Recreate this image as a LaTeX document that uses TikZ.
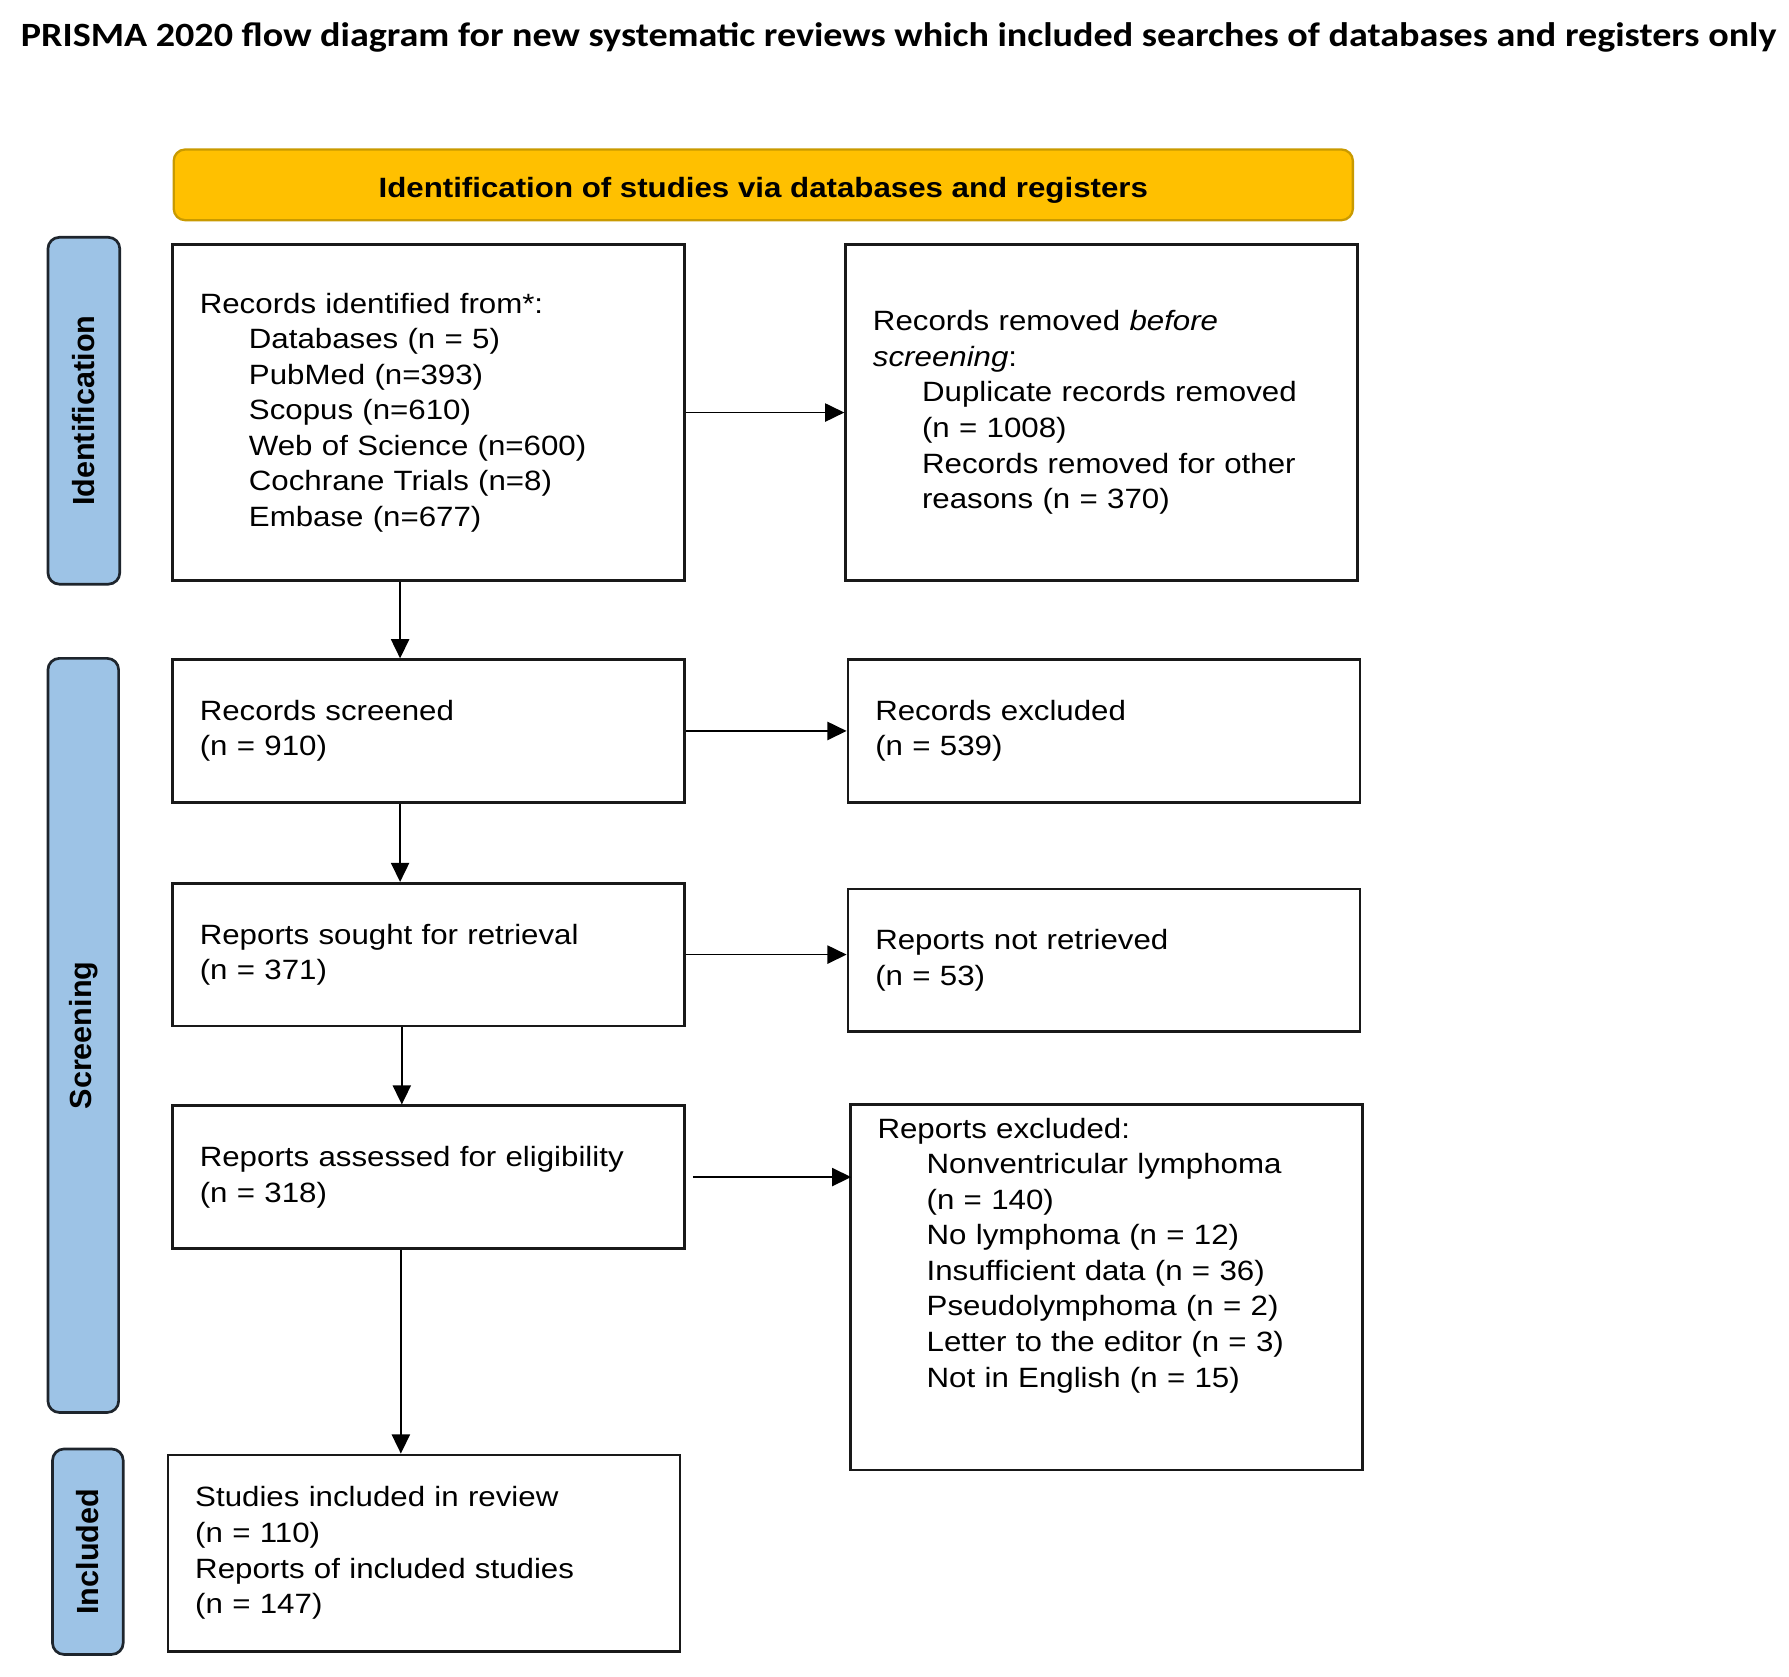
\documentclass[tikz,border=0pt]{standalone}
\usepackage{fontspec}
\setmainfont{Liberation Sans}[FakeStretch=1.12]
\newfontfamily\calib{Carlito}[FakeStretch=1.12]
\newfontfamily\sidefont{Liberation Sans}
\newfontfamily\hdfont{Liberation Sans}[FakeStretch=1.12]
\usetikzlibrary{arrows.meta}
\definecolor{bannerY}{HTML}{FFC000}
\definecolor{bannerB}{HTML}{C99A00}
\definecolor{sideB}{HTML}{9DC3E6}
\definecolor{sideD}{HTML}{1E252D}
\newcommand{\ind}{\hspace*{25.7pt}}
\begin{document}
\begin{tikzpicture}[x=0.597pt,y=-0.597pt,
  box/.style={draw=black!90, line width=1.4pt, rectangle, anchor=north west,
    inner xsep=14.3pt, inner ysep=0pt, minimum width=268pt, text width=239.4pt,
    align=left, font=\fontsize{14.6}{18.6}\selectfont},
  side/.style={draw=sideD, fill=sideB, line width=1.4pt, rounded corners=6pt,
    rotate=90, inner sep=0pt, font=\sidefont\bfseries\fontsize{16}{19}\selectfont},
  banner/.style={draw=bannerB, fill=bannerY, line width=1.2pt, rounded corners=6pt,
    minimum width=617pt, minimum height=37pt, inner sep=0pt,
    text height=13.1pt, text depth=0pt,
    font=\hdfont\bfseries\fontsize{14.6}{18}\selectfont},
  arr/.style={draw=black!75, line width=0.9pt, -{Triangle[length=10pt,width=9.5pt]}, black}
]
\useasboundingbox (0,0) rectangle (1568,1469);

\node[anchor=west, inner sep=0pt, font=\calib\bfseries\fontsize{17.8}{20}\selectfont] (title) at (18,33)
  {PRISMA 2020 flow diagram for new systematic reviews which included searches of databases and registers only};

\node[banner] (ban) at (669,162) {Identification of studies via databases and registers};

\node[side, minimum width=181.5pt, minimum height=37.6pt] (sid) at (73.5,360) {Identification};
\node[side, minimum width=394.6pt, minimum height=37pt] (ssc) at (73,907.5) {Screening};
\node[side, minimum width=107.5pt, minimum height=37pt] (sin) at (77,1360) {Included};

\node[box, minimum height=176pt] (b1) at (150,213)
  {Records identified from*:\\
   \ind Databases (n = 5)\\
   \ind PubMed (n=393)\\
   \ind Scopus (n=610)\\
   \ind Web of Science (n=600)\\
   \ind Cochrane Trials (n=8)\\
   \ind Embase (n=677)};

\node[box, minimum height=176pt] (r1) at (740,213)
  {Records removed \textit{before}\\
   \textit{screening}:\\
   \ind Duplicate records removed\\
   \ind (n = 1008)\\
   \ind Records removed for other\\
   \ind reasons (n = 370)};

\node[box, minimum height=74.6pt] (b2) at (150,577)
  {Records screened\\(n = 910)};
\node[box, minimum height=74.6pt] (r2) at (742,577)
  {Records excluded\\(n = 539)};

\node[box, minimum height=74.6pt] (b3) at (150,773)
  {Reports sought for retrieval\\(n = 371)};
\node[box, minimum height=74.6pt] (r3) at (742,778)
  {Reports not retrieved\\(n = 53)};

\node[box, minimum height=74.6pt] (b4) at (150,968)
  {Reports assessed for eligibility\\(n = 318)};
\node[box, inner ysep=7pt] (r4) at (744,967)
  {\parbox[c][177.2pt][t]{239.4pt}{\raggedright
   Reports excluded:\\
   \ind Nonventricular lymphoma\\
   \ind (n = 140)\\
   \ind No lymphoma (n = 12)\\
   \ind Insufficient data (n = 36)\\
   \ind Pseudolymphoma (n = 2)\\
   \ind Letter to the editor (n = 3)\\
   \ind Not in English (n = 15)}};

\node[box, minimum height=102.7pt] (b5) at (146,1274)
  {Studies included in review\\
   (n = 110)\\
   Reports of included studies\\
   (n = 147)};

\draw[arr] (b1.east) -- (r1.west);
\draw[arr] (b2.east) -- (b2.east -| r2.west);
\draw[arr] (b3.east) -- (b3.east -| r3.west);
\draw[arr, shorten >=2.4pt] ([xshift=3.6pt]b4.east) -- ([xshift=3.6pt]b4.east -| r4.west);

\draw[arr] ([xshift=-14.9pt]b1.south) -- ([xshift=-14.9pt]b2.north);
\draw[arr] ([xshift=-14.9pt]b2.south) -- ([xshift=-14.9pt]b3.north);
\draw[arr] ([xshift=-14pt]b3.south) -- ([xshift=-14pt]b4.north);
\draw[arr] ([xshift=-14.5pt]b4.south) -- ([xshift=-14.5pt]b4.south |- b5.north);
\end{tikzpicture}
\end{document}
